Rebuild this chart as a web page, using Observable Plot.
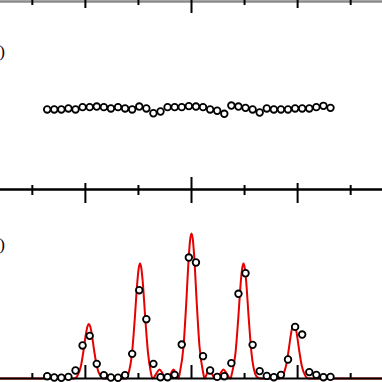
<!DOCTYPE html>
<html><head><meta charset="utf-8">
<script src="https://cdn.jsdelivr.net/npm/d3@7"></script>
<script src="https://cdn.jsdelivr.net/npm/@observablehq/plot@0.6"></script>
<style>
html,body{margin:0;padding:0;background:#fff;}
#wrap{position:relative;width:382px;height:382px;overflow:hidden;background:#fff;}
#top,#bot{position:absolute;left:0;}
#top{top:0;}
#bot{top:189px;}
</style></head>
<body><div id="wrap"><div id="top"></div><div id="bot"></div></div>
<script>
const panelLabels = ["(a)", "(b)"];

const xPoints = [-2.720,-2.587,-2.453,-2.320,-2.186,-2.053,-1.919,-1.786,-1.652,-1.519,
  -1.385,-1.252,-1.118,-0.985,-0.851,-0.718,-0.584,-0.451,-0.317,-0.184,
  -0.050,0.084,0.217,0.351,0.484,0.618,0.751,0.885,1.018,1.152,
  1.285,1.419,1.552,1.686,1.819,1.953,2.086,2.220,2.353,2.487,2.620];

const topValues = [0.552,0.552,0.552,0.559,0.552,0.568,0.568,0.572,0.568,0.559,
  0.568,0.559,0.552,0.572,0.559,0.526,0.538,0.568,0.568,0.568,
  0.575,0.572,0.568,0.552,0.543,0.522,0.579,0.572,0.563,0.552,
  0.531,0.559,0.552,0.552,0.552,0.559,0.559,0.559,0.568,0.577,0.563];

const bottomValues = [0.016,0.007,0.005,0.011,0.055,0.228,0.294,0.101,0.023,0.007,
  0.005,0.023,0.170,0.609,0.409,0.101,0.009,0.009,0.025,0.234,
  0.834,0.800,0.154,0.055,0.011,0.016,0.106,0.584,0.726,0.232,
  0.051,0.018,0.009,0.025,0.131,0.356,0.303,0.044,0.025,0.009,0.011];

const curveX = [-3.6,-2.3,-2.205,-2.155,-2.085,-2.035,-1.985,-1.96,-1.935,-1.91,-1.885,-1.835,-1.785,-1.715,-1.665,
  -1.24,-1.19,-1.12,-1.07,-1.02,-0.995,-0.97,-0.945,-0.92,-0.87,-0.82,-0.77,-0.735,
  -0.66,-0.603,-0.546,-0.49,-0.433,-0.386,-0.339,-0.292,-0.245,
  -0.22,-0.15,-0.1,-0.05,-0.025,0,0.025,0.05,0.1,0.15,0.22,
  0.245,0.292,0.339,0.386,0.433,0.49,0.546,0.603,0.66,0.735,
  0.76,0.83,0.88,0.93,0.955,0.98,1.005,1.03,1.08,1.13,1.2,1.25,1.3,
  1.66,1.71,1.78,1.83,1.88,1.905,1.93,1.955,1.98,2.03,2.08,2.15,2.2,3.6];
const curveY = [0,0,0,0.015,0.084,0.193,0.318,0.36,0.375,0.36,0.318,0.193,0.084,0.015,0,
  0,0.032,0.178,0.408,0.672,0.760,0.793,0.760,0.672,0.408,0.178,0.05,0,
  0.035,0.062,0.035,0,0,0.035,0.062,0.035,0,
  0.04,0.224,0.514,0.847,0.959,1.0,0.959,0.847,0.514,0.224,0.04,
  0,0.035,0.062,0.035,0,0,0.035,0.062,0.035,0,
  0.032,0.178,0.408,0.672,0.760,0.793,0.760,0.672,0.408,0.178,0.032,0.006,0,
  0,0.015,0.084,0.193,0.318,0.36,0.375,0.36,0.318,0.193,0.084,0.015,0,0];

const majorTicks = [0];
const midTicks = [-2, 2];
const minorTicks = [-3, -1, 1, 3];

const xDomain = [-3.6, 3.6];
const yDomain = [0, 1.3034];

function tickMarks(H, specs) {
  const marks = [];
  for (const [vals, topLen, botLen] of specs) {
    if (topLen) marks.push(Plot.tickX(vals, {x: d => d, stroke: "#000", strokeWidth: 2, insetBottom: H - topLen}));
    if (botLen) marks.push(Plot.tickX(vals, {x: d => d, stroke: "#000", strokeWidth: 2, insetTop: H - botLen}));
  }
  return marks;
}

const idx = d3.range(xPoints.length);
const dotStyle = {r: 3.3, fill: "white", stroke: "black", strokeWidth: 1.8};
const labelStyle = {frameAnchor: "top-left", dx: 4.5, textAnchor: "end", lineAnchor: "middle",
  fontFamily: "Liberation Serif, Times New Roman, serif", fontSize: 17, fill: "black", text: d => d};

const common = {
  width: 382, marginLeft: 0, marginRight: 0, marginTop: 0,
  x: {domain: xDomain, axis: null},
  y: {domain: yDomain, axis: null},
  style: {background: "transparent", overflow: "visible"}
};

const topChart = Plot.plot({
  ...common,
  height: 190, marginBottom: 1,
  marks: [
    Plot.ruleY([yDomain[1]], {stroke: "#8a8a8a", strokeWidth: 2.5, dy: 1}),
    Plot.ruleY([yDomain[0]], {stroke: "#000", strokeWidth: 2.2}),
    ...tickMarks(189, [[majorTicks, 13, 12], [midTicks, 8, 6], [minorTicks, 5, 4]]),
    Plot.text([panelLabels[0]], {...labelStyle, dy: 51}),
    Plot.dot(idx, {x: i => xPoints[i], y: i => topValues[i], ...dotStyle})
  ]
});
document.getElementById("top").appendChild(topChart);

const botChart = Plot.plot({
  ...common,
  height: 193, marginBottom: 4,
  marks: [
    Plot.line(curveX.map((x, i) => ({x, y: curveY[i]})), {x: "x", y: "y", curve: "monotone-x", stroke: "#e60000", strokeWidth: 2}),
    Plot.ruleY([yDomain[1]], {stroke: "#000", strokeWidth: 2.2}),
    Plot.ruleY([yDomain[0]], {stroke: "#000", strokeWidth: 2.2}),
    ...tickMarks(189, [[majorTicks, 14, 13], [midTicks, 14, 13], [minorTicks, 6, 5]]),
    Plot.text([panelLabels[1]], {...labelStyle, dy: 55}),
    Plot.dot(idx, {x: i => xPoints[i], y: i => bottomValues[i], ...dotStyle})
  ]
});
document.getElementById("bot").appendChild(botChart);
</script>
</body></html>
